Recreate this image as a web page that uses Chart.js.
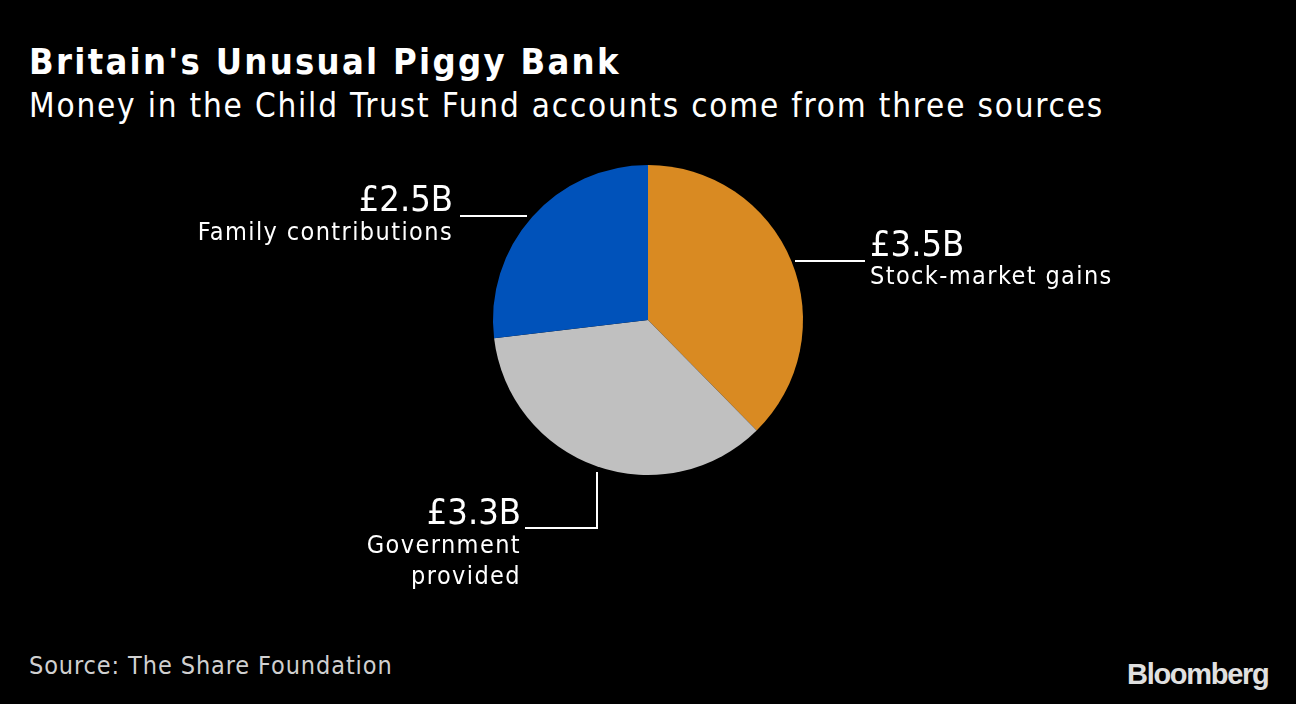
<!DOCTYPE html>
<html>
<head>
<meta charset="utf-8">
<script src="https://cdn.jsdelivr.net/npm/chart.js@4"></script>
<style>
  body { margin: 0; background: #000; width: 1296px; height: 704px; overflow: hidden; position: relative; font-family: "DejaVu Sans Condensed", "DejaVu Sans", sans-serif; color: #fff; }
  #title { position: absolute; left: 29px; top: 41px; font-size: 36px; font-weight: bold; letter-spacing: 2.3px; }
  #subtitle { position: absolute; left: 29px; top: 86px; font-size: 33px; letter-spacing: 1.8px; }
  #source { position: absolute; left: 29px; top: 651px; font-size: 25px; letter-spacing: 0.9px; color: #d0d0d0; }
  #logo { position: absolute; left: 1127px; top: 658px; font-family: "Liberation Sans", Arial, sans-serif; font-weight: bold; font-size: 29px; letter-spacing: -1.3px; color: #e0e0e0; }
  #wrap { position: absolute; left: 0; top: 140px; width: 1296px; height: 480px; }
</style>
</head>
<body>
<div id="title">Britain's Unusual Piggy Bank</div>
<div id="subtitle">Money in the Child Trust Fund accounts come from three sources</div>
<div id="wrap"><canvas id="pie"></canvas></div>
<div id="source">Source: The Share Foundation</div>
<div id="logo">Bloomberg</div>
<script>
const categories = ['Stock-market gains', 'Government provided', 'Family contributions'];
const values = [3.5, 3.3, 2.5];
const valueLabels = ['£3.5B', '£3.3B', '£2.5B'];
const colors = ['#d98a22', '#c0c0c0', '#0052ba'];

// leader lines and text, offsets relative to pie centre
const callouts = [
  { line: [[147, -59], [217, -59]], text: [[222, -64, 36, 'left', 0], [222, -36, 25, 'left', 1]] },
  { line: [[-51, 152], [-51, 208], [-123, 208]], text: [[-127, 204, 36, 'right', 0], [-127, 233, 25, 'right', 2], [-127, 264, 25, 'right', 3]] },
  { line: [[-121, -104], [-188, -104]], text: [[-195, -109, 36, 'right', 0], [-195, -80, 25, 'right', 1]] }
];
const lines = [
  [valueLabels[0], 'Stock-market gains'],
  [valueLabels[1], '', 'Government', 'provided'],
  [valueLabels[2], 'Family contributions']
];

const calloutPlugin = {
  id: 'callouts',
  afterDatasetsDraw(chart) {
    const ctx = chart.ctx;
    const arc = chart.getDatasetMeta(0).data[0];
    const cx = arc.x, cy = arc.y;
    ctx.save();
    ctx.strokeStyle = '#fff';
    ctx.lineWidth = 2;
    ctx.fillStyle = '#fff';
    callouts.forEach((c, i) => {
      ctx.beginPath();
      c.line.forEach((p, j) => {
        if (j === 0) ctx.moveTo(cx + p[0], cy + p[1]);
        else ctx.lineTo(cx + p[0], cy + p[1]);
      });
      ctx.stroke();
      c.text.forEach(t => {
        ctx.font = t[2] + 'px "DejaVu Sans Condensed", "DejaVu Sans", sans-serif';
        ctx.letterSpacing = t[2] > 30 ? '0px' : '1.4px';
        ctx.textAlign = t[3];
        ctx.textBaseline = 'alphabetic';
        ctx.fillText(lines[i][t[4]], cx + t[0], cy + t[1]);
      });
    });
    ctx.restore();
  }
};

new Chart(document.getElementById('pie'), {
  type: 'pie',
  data: {
    labels: categories,
    datasets: [{ data: values, backgroundColor: colors, borderWidth: 0, hoverOffset: 0 }]
  },
  options: {
    responsive: true,
    maintainAspectRatio: false,
    animation: false,
    layout: { padding: { top: 25, bottom: 145 } },
    plugins: { legend: { display: false }, tooltip: { enabled: false } }
  },
  plugins: [calloutPlugin]
});
</script>
</body>
</html>
